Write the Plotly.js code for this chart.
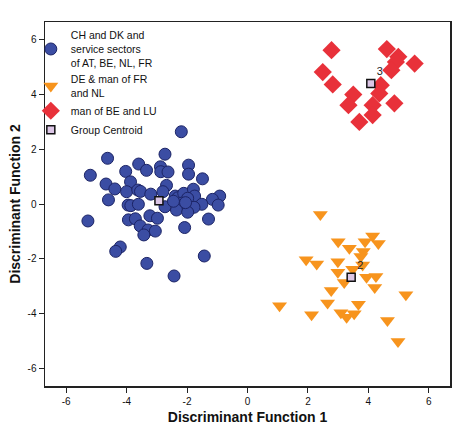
<!DOCTYPE html>
<html>
<head>
<meta charset="utf-8">
<script src="https://cdn.plot.ly/plotly-3.0.1.min.js"></script>
<style>html,body{margin:0;padding:0;background:#fff}#chart{width:474px;height:435px}</style>
</head>
<body>
<div id="chart"></div>
<script>
// Group 1: CH and DK and service sectors of AT, BE, NL, FR
const g1X = [-2.19,-4.63,-2.73,-3.60,-3.34,-4.03,-2.88,-2.87,-2.63,-1.95,-1.95,-5.20,-1.49,-4.68,-4.39,-3.87,-4.00,-3.63,-3.54,-3.20,-2.68,-2.80,-2.39,-2.30,-2.11,-1.79,-1.75,-1.98,-2.18,-0.92,-1.16,-0.97,-1.51,-1.77,-2.35,-1.98,-2.73,-4.60,-3.95,-3.86,-3.61,-3.23,-2.98,-3.94,-3.71,-5.28,-3.55,-3.29,-3.05,-3.43,-1.29,-2.08,-4.21,-4.36,-3.33,-1.43,-2.43,-2.45,-2.05];
const g1Y = [2.64,1.67,1.82,1.46,1.23,1.19,1.36,1.18,1.17,1.42,1.09,1.05,0.92,0.73,0.55,0.81,0.45,0.51,0.46,0.36,0.68,0.45,0.29,0.23,0.39,0.54,0.29,0.21,0.03,0.29,0.17,-0.04,-0.01,-0.12,-0.22,-0.30,-0.10,0.15,-0.04,-0.06,-0.01,-0.43,-0.52,-0.58,-0.54,-0.62,-0.80,-0.95,-0.99,-1.13,-0.55,-0.86,-1.57,-1.73,-2.17,-1.90,-2.63,0.10,0.05];
// Group 2: DE & man of FR and NL
const g2X = [2.41,3.00,3.37,4.14,3.89,4.33,3.83,3.75,1.94,2.29,2.99,3.81,3.48,2.99,3.20,3.94,4.25,4.21,2.77,5.24,1.06,2.65,3.67,2.12,3.09,3.28,3.53,4.63,4.98];
const g2Y = [-0.38,-1.38,-1.62,-1.17,-1.38,-1.44,-1.74,-1.92,-2.04,-2.19,-2.11,-2.23,-2.38,-2.49,-2.87,-2.68,-2.65,-3.05,-3.16,-3.32,-3.72,-3.62,-3.66,-4.05,-3.97,-4.14,-4.01,-4.26,-5.02];
// Group 3: man of BE and LU
const g3X = [2.78,4.61,4.99,4.91,5.53,4.76,2.49,2.82,4.41,4.36,3.50,3.34,4.14,4.86,4.14,3.70];
const g3Y = [5.62,5.66,5.38,5.19,5.13,4.89,4.82,4.37,4.34,4.04,4.00,3.61,3.61,3.68,3.25,3.00];
// Group centroids
const centX = [-2.93, 3.43, 4.08];
const centY = [0.12, -2.68, 4.40];
const centLabels = ["", "2", "3"];

const names = [
  "CH and DK and<br>service sectors<br>of AT, BE, NL, FR",
  "DE &amp; man of FR<br>and NL",
  "man of BE and LU",
  "Group Centroid"
];
const xTicks = [-6,-4,-2,0,2,4,6];
const yTicks = [-6,-4,-2,0,2,4,6];

const font = "Liberation Sans, Arial, Helvetica, sans-serif";

const traces = [
  {x:g1X, y:g1Y, type:'scatter', mode:'markers', name:names[0],
   marker:{symbol:'circle', size:12, color:'#3b4da3', line:{color:'#1c2466', width:1}}},
  {x:g2X, y:g2Y, type:'scatter', mode:'markers', name:names[1],
   marker:{symbol:'triangle-down', size:13, color:'#f7941d', line:{width:0}}},
  {x:g3X, y:g3Y, type:'scatter', mode:'markers', name:names[2],
   marker:{symbol:'diamond', size:14, color:'#e8313a', line:{width:0}}},
  {x:centX, y:centY, type:'scatter', mode:'markers+text', name:names[3],
   text:centLabels, textposition:'top right', textfont:{family:font, size:11, color:'#222'},
   marker:{symbol:'square', size:8, color:'#dcc6e6', line:{color:'#111', width:1.5}}}
];

const layout = {
  width:474, height:435,
  margin:{l:45, r:24, t:22, b:49},
  paper_bgcolor:'#fff', plot_bgcolor:'#fff',
  font:{family:font, size:10, color:'#111'},
  showlegend:true,
  legend:{x:-0.035, y:1.0, xanchor:'left', yanchor:'top', bgcolor:'rgba(0,0,0,0)',
          font:{family:font, size:10.5, color:'#111'}, tracegroupgap:0, itemsizing:'trace'},
  xaxis:{range:[-6.7,6.7], tickvals:xTicks, ticktext:xTicks.map(String), showgrid:false, zeroline:false,
         showline:true, linecolor:'#222', linewidth:1.5, mirror:true,
         ticks:'outside', ticklen:5, tickcolor:'#222',
         tickfont:{size:10},
         title:{text:'<b>Discriminant Function 1</b>', font:{size:14, family:font}, standoff:6}},
  yaxis:{range:[-6.65,6.65], tickvals:yTicks, ticktext:yTicks.map(String), showgrid:false, zeroline:false,
         showline:true, linecolor:'#222', linewidth:1.5, mirror:true,
         ticks:'outside', ticklen:5, tickcolor:'#222',
         tickfont:{size:10},
         title:{text:'<b>Discriminant Function 2</b>', font:{size:14, family:font}, standoff:3}}
};

Plotly.newPlot('chart', traces, layout, {displayModeBar:false, staticPlot:true});
</script>
</body>
</html>
